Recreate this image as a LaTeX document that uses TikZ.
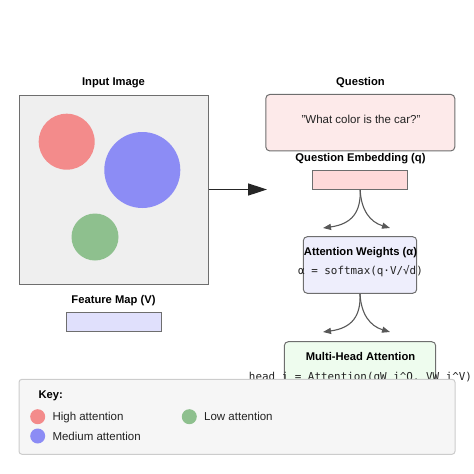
\documentclass[tikz,border=0pt]{standalone}
\usepackage{fontspec}
\setmainfont{Liberation Sans}
\newfontfamily\monof{DejaVu Sans Mono}
\usetikzlibrary{arrows.meta}
\definecolor{strokegray}{HTML}{6E6E6E}
\definecolor{imgfill}{HTML}{EFEFEF}
\definecolor{qfill}{HTML}{FDEAEA}
\definecolor{embfill}{HTML}{FFDADA}
\definecolor{attfill}{HTML}{EEEEFC}
\definecolor{featfill}{HTML}{E0E0FC}
\definecolor{mhfill}{HTML}{EEFCEE}
\definecolor{keyfill}{HTML}{F6F6F6}
\definecolor{keystroke}{HTML}{CCCCCC}
\definecolor{hired}{HTML}{F38B8B}
\definecolor{medblue}{HTML}{8C8CF5}
\definecolor{lowgreen}{HTML}{8EC08E}
\definecolor{txt}{HTML}{222222}
\tikzset{
  lbl/.style={font=\fontsize{11.2}{13}\selectfont\bfseries, text=black, inner sep=0pt, anchor=base},
  plain/.style={font=\fontsize{11.5}{13}\selectfont, text=txt, inner sep=0pt, anchor=base},
  mono/.style={font=\fontsize{10.9}{13}\selectfont\monof, text=txt, inner sep=0pt, anchor=base},
  boxs/.style={draw=strokegray, line width=1pt},
  dot/.style={circle, inner sep=0pt, draw=none},
  curv/.style={draw=strokegray!80!black, line width=1.1pt, -{Triangle[length=8pt,width=6pt]}},
}
\begin{document}
\begin{tikzpicture}[x=1pt,y=-1pt]
\useasboundingbox (0,0) rectangle (474,474);
% Input image
\node[lbl] (tin) at (113.5,85.3) {Input Image};
\draw[boxs, fill=imgfill] (19,95) rectangle (208.5,284);
\node[inner sep=0pt, minimum width=189.5pt, minimum height=189pt] (img) at (113.75,189.5) {};
\node[dot, fill=hired, minimum size=56pt] (c1) at (66.7,141.7) {};
\node[dot, fill=medblue, minimum size=76pt] (c2) at (142.3,170) {};
\node[dot, fill=lowgreen, minimum size=47pt] (c3) at (95,237) {};
% Feature map
\node[lbl] (tfeat) at (113.5,303.7) {Feature Map (V)};
\node[boxs, fill=featfill, minimum width=95.5pt, minimum height=19.5pt, inner sep=0pt] (feat) at (114,322) {};
% main arrow
\coordinate (aend) at (267,189.5);
\draw[line width=1.6pt, black!85, -{Triangle[length=19pt,width=12pt]}] (img.east) -- (aend);
% Question
\node[lbl] (tq) at (360.5,85.3) {Question};
\node[boxs, fill=qfill, rounded corners=4pt, minimum width=189pt, minimum height=56.5pt, inner sep=0pt] (q) at (360.3,122.7) {};
\node[plain] (qt) at (361,123.5) {"What color is the car?"};
\node[lbl] (temb) at (360.5,161) {Question Embedding (q)};
\node[boxs, fill=embfill, minimum width=95pt, minimum height=18.6pt, inner sep=0pt] (emb) at (360.2,180) {};
% curves 1
\coordinate (l1) at (323,228);
\coordinate (r1) at (390,228);
\draw[curv] (emb.south) .. controls (361,212) and (352,224) .. (l1);
\draw[curv] (emb.south) .. controls (361,210) and (370,222) .. (r1);
% attention weights
\node[boxs, fill=attfill, rounded corners=4pt, minimum width=113.4pt, minimum height=56.6pt, inner sep=0pt] (att) at (360,265) {};
\node[lbl] (tatt) at (360.5,255.8) {Attention Weights (α)};
\node[mono] (fatt) at (360.5,274.3) {α = softmax(q·V/√d)};
% curves 2
\coordinate (l2) at (323,332);
\coordinate (r2) at (390,332);
\draw[curv] (att.south) .. controls (361,316) and (352,328) .. (l2);
\draw[curv] (att.south) .. controls (361,314) and (370,326) .. (r2);
% multi-head
\draw[boxs, fill=mhfill, rounded corners=4pt] (284.3,400) -- (284.3,341.7) -- (435.7,341.7) -- (435.7,400);
\node[inner sep=0pt, minimum width=151.4pt, minimum height=58pt] (mh) at (360,370.7) {};
\node[lbl] (tmh) at (360.5,360) {Multi-Head Attention};
\node[mono] (fmh) at (360.5,380.5) {head\_i = Attention(qW\_i\textasciicircum Q, VW\_i\textasciicircum V)};
% key
\draw[draw=keystroke, line width=1pt, fill=keyfill, rounded corners=3pt] (19,379.3) rectangle (455,454.3);
\node[lbl, anchor=base west] (tkey) at (38.3,398.3) {Key:};
\node[dot, fill=hired, minimum size=15pt] (k1) at (37.7,416.7) {};
\node[plain, anchor=base west] (k1t) at (52.3,420.8) {High attention};
\node[dot, fill=medblue, minimum size=15pt] (k2) at (37.7,436) {};
\node[plain, anchor=base west] (k2t) at (52.3,440) {Medium attention};
\node[dot, fill=lowgreen, minimum size=15pt] (k3) at (189.3,416.7) {};
\node[plain, anchor=base west] (k3t) at (204,420.8) {Low attention};
\end{tikzpicture}
\end{document}
